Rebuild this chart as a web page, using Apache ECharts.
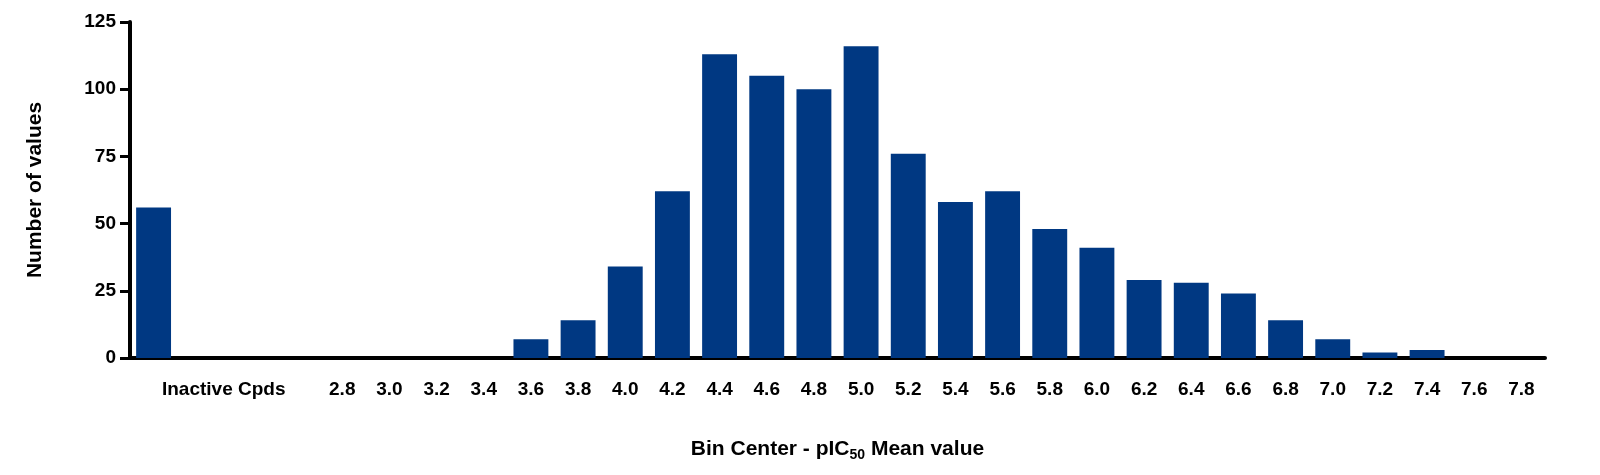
<!DOCTYPE html>
<html><head><meta charset="utf-8">
<script src="https://cdn.jsdelivr.net/npm/echarts@6/dist/echarts.min.js"></script>
<style>html,body{margin:0;background:#fff}#c{width:1600px;height:475px}</style>
</head><body><div id="c"></div>
<script>
// bins: inactive compounds, three blank slots, then 2.8 .. 7.8
const categories = ['Inactive', 'b1', 'b2', 'b3', '2.8', '3.0', '3.2', '3.4', '3.6', '3.8', '4.0', '4.2', '4.4', '4.6', '4.8',
  '5.0', '5.2', '5.4', '5.6', '5.8', '6.0', '6.2', '6.4', '6.6', '6.8', '7.0', '7.2', '7.4', '7.6', '7.8']
const counts = [56, 0, 0, 0, 0, 0, 0, 0, 7, 14, 34, 62, 113, 105, 100,
  116, 76, 58, 62, 48, 41, 29, 28, 24, 14, 7, 2, 3, 0, 0]
const yTicks = [0, 25, 50, 75, 100, 125]

const font = 'Liberation Sans'
const chart = echarts.init(document.getElementById('c'))
chart.setOption({
  animation: false,
  grid: { left: 130, right: 55, top: 22, bottom: 117 },
  xAxis: {
    type: 'category',
    data: categories,
    name: '{t|Bin Center - pIC}{s|50}{t| Mean value}',
    nameLocation: 'middle',
    nameGap: 78,
    nameTextStyle: {
      rich: {
        t: { fontFamily: font, fontWeight: 'bold', fontSize: 21, color: '#000' },
        s: { fontFamily: font, fontWeight: 'bold', fontSize: 14, color: '#000', verticalAlign: 'bottom', padding: [12, 0, 0, 0] }
      }
    },
    axisLine: { lineStyle: { color: '#000', width: 4 } },
    axisTick: { interval: 0, alignWithLabel: true, length: 12, lineStyle: { color: '#000', width: 3 } },
    axisLabel: {
      interval: 0, margin: 22,
      fontFamily: font, fontWeight: 'bold', fontSize: 19, color: '#000',
      formatter: v => v === 'b1' ? '{a|Inactive Cpds}' : (v[0] === 'b' || v === 'Inactive' ? '' : v),
      rich: { a: { fontFamily: font, fontWeight: 'bold', fontSize: 19, color: '#000', padding: [0, 0, 0, 46] } }
    }
  },
  yAxis: {
    type: 'value',
    min: yTicks[0], max: yTicks[yTicks.length - 1], interval: 25,
    name: 'Number of values',
    nameLocation: 'middle',
    nameGap: 84,
    nameTextStyle: { fontFamily: font, fontWeight: 'bold', fontSize: 21, color: '#000' },
    axisLine: { show: true, lineStyle: { color: '#000', width: 4 } },
    axisTick: { show: true, length: 10, lineStyle: { color: '#000', width: 3 } },
    axisLabel: { fontFamily: font, fontWeight: 'bold', fontSize: 19, color: '#000', margin: 14 },
    splitLine: { show: false }
  },
  series: [{
    type: 'bar',
    data: counts,
    barWidth: '74%',
    itemStyle: { color: '#003882' }
  }]
})
</script></body></html>
